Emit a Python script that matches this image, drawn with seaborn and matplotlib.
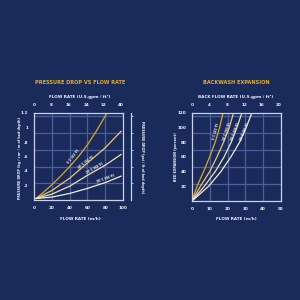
import numpy as np
import pandas as pd
import matplotlib
matplotlib.use("Agg")
import matplotlib.pyplot as plt
import seaborn as sns

# ---------------- data ----------------
# Pressure drop vs flow rate (x: m/h, y: kg/cm2/m of bed depth)
pd_labels = ["5°C (41°F)", "10°C (50°F)", "20°C (68°F)", "30°C (86°F)"]
pd_x1 = [2, 10, 20, 30, 40, 50, 60, 70, 82]
pd_y1 = [0.02, 0.10, 0.21, 0.33, 0.46, 0.60, 0.76, 0.95, 1.2]
pd_x = [2, 20, 40, 60, 80, 98]
pd_y2 = [0.02, 0.13, 0.30, 0.51, 0.72, 0.95]
pd_y3 = [0.02, 0.08, 0.19, 0.34, 0.48, 0.63]
pd_y4 = [0.02, 0.04, 0.09, 0.16, 0.24, 0.33]

# Backwash expansion (x: m/h, y: % bed expansion)
bw_labels = ["5°C (41°F)", "10°C (50°F)", "20°C (68°F)", "30°C (86°F)"]
bw_y = [0, 20, 40, 60, 80, 100, 120]
bw_x1 = [0, 2.8, 6.5, 9.9, 13.0, 15.5, 17.4]
bw_x2 = [0, 4.7, 9.9, 14.0, 17.7, 20.9, 23.3]
bw_x3 = [0, 6.9, 13.0, 18.0, 22.0, 25.2, 28.0]
bw_x4 = [0, 9.3, 16.2, 21.8, 26.7, 30.4, 33.6]

pd_xticks = [0, 20, 40, 60, 80, 100]
pd_yticks = [0.2, 0.4, 0.6, 0.8, 1.0, 1.2]
pd_ytick_labels = [".2", ".4", ".6", ".8", "1", "1.2"]
pd_top_ticks = [0, 8, 16, 24, 32, 40]
bw_xticks = [0, 10, 20, 30, 40, 50]
bw_yticks = [20, 40, 60, 80, 100, 120]
bw_top_ticks = [0, 4, 8, 12, 16, 20]

# ---------------- style ----------------
BG = "#1a2a5a"
GRID = "#4a5f9c"
FRAME = "#c9d2ea"
GOLD = "#e3ad2c"
curve_colors = ["#d9a62e", "#e8c878", "#efe0b4", "#f2ecd8"]
WHITE = "#eef1f8"

sns.set_theme(style="dark")
plt.rcParams["font.family"] = ["DejaVu Sans"]
plt.rcParams["axes.facecolor"] = BG
plt.rcParams["figure.facecolor"] = BG

fig = plt.figure(figsize=(3, 3), dpi=100)
fig.patch.set_facecolor(BG)

GPM = 2.445  # m/h per US gpm/ft2
KG2PSI = 4.335

def style_axes(ax):
    ax.set_facecolor(BG)
    for s in ax.spines.values():
        s.set_color(FRAME)
        s.set_linewidth(0.9)
    ax.tick_params(axis="both", length=0, pad=4, labelsize=3, labelcolor=WHITE)
    for lab in ax.get_xticklabels() + ax.get_yticklabels():
        lab.set_fontweight("bold")

# ---------------- left panel ----------------
axL = fig.add_axes([34/300, 1-200/300, 89/300, 87/300])
dfs = []
dfs.append(pd.DataFrame({"x": pd_x1, "y": pd_y1, "c": pd_labels[0]}))
for lab, yy in zip(pd_labels[1:], [pd_y2, pd_y3, pd_y4]):
    dfs.append(pd.DataFrame({"x": pd_x, "y": yy, "c": lab}))
dfL = pd.concat(dfs)
sns.lineplot(data=dfL, x="x", y="y", hue="c", palette=curve_colors, ax=axL,
             legend=False, linewidth=0.9, estimator=None)
axL.set_xlim(0, 100)
axL.set_ylim(0, 1.2)
axL.set_xticks(pd_xticks)
axL.set_yticks(pd_yticks)
axL.set_yticklabels(pd_ytick_labels)
axL.set_xlabel("")
axL.set_ylabel("")
for xv in pd_xticks[1:-1]:
    axL.axvline(xv, color=GRID, lw=0.9, zorder=0)
for pv in [1, 2, 3, 4, 5]:
    axL.axhline(pv / KG2PSI, color=GRID, lw=0.9, zorder=0)
style_axes(axL)
topL = axL.secondary_xaxis("top", functions=(lambda v: v / GPM, lambda v: v * GPM))
topL.set_xticks(pd_top_ticks)
topL.tick_params(length=0, pad=4, labelsize=3, labelcolor=WHITE)
topL.spines["top"].set_visible(False)
for lab in topL.get_xticklabels():
    lab.set_fontweight("bold")
rightL = axL.secondary_yaxis(1.09, functions=(lambda v: v * KG2PSI, lambda v: v / KG2PSI))
rightL.set_yticks([1, 2, 3, 4, 5])
rightL.set_yticklabels([])
rightL.tick_params(length=1.5, color=FRAME, width=0.6)
rightL.spines["right"].set_color(FRAME)
rightL.spines["right"].set_linewidth(0.9)

lab_pos = [(44, 0.60, 52), (58, 0.52, 38), (68, 0.44, 30), (80, 0.30, 20)]
for (xx, yy, rot), lab in zip(lab_pos, pd_labels):
    axL.text(xx, yy, lab, fontsize=2.2, color=WHITE, rotation=rot,
             ha="center", va="center", fontweight="bold")

# ---------------- right panel ----------------
axR = fig.add_axes([192/300, 1-201/300, 89/300, 88/300])
dfs = []
for lab, xx in zip(bw_labels, [bw_x1, bw_x2, bw_x3, bw_x4]):
    dfs.append(pd.DataFrame({"x": xx, "y": bw_y, "c": lab}))
dfR = pd.concat(dfs)
sns.lineplot(data=dfR, x="x", y="y", hue="c", palette=curve_colors, ax=axR,
             legend=False, linewidth=0.9, estimator=None, sort=False)
axR.set_xlim(0, 50)
axR.set_ylim(0, 120)
axR.set_xticks(bw_xticks)
axR.set_yticks(bw_yticks)
axR.set_xlabel("")
axR.set_ylabel("")
for xv in bw_xticks[1:-1]:
    axR.axvline(xv, color=GRID, lw=0.9, zorder=0)
for pv in [1, 2, 3, 4, 5]:
    axR.axhline(pv / KG2PSI * 100, color=GRID, lw=0.9, zorder=0)
style_axes(axR)
topR = axR.secondary_xaxis("top", functions=(lambda v: v / GPM, lambda v: v * GPM))
topR.set_xticks(bw_top_ticks)
topR.tick_params(length=0, pad=4, labelsize=3, labelcolor=WHITE)
topR.spines["top"].set_visible(False)
for lab in topR.get_xticklabels():
    lab.set_fontweight("bold")

lab_posR = [(13.5, 95, 76), (19.5, 95, 72), (24.5, 95, 70), (29.5, 95, 68)]
for (xx, yy, rot), lab in zip(lab_posR, bw_labels):
    axR.text(xx, yy, lab, fontsize=2.2, color=WHITE, rotation=rot,
             ha="center", va="center", fontweight="bold")

# ---------------- texts ----------------
fs_t = 3.6
fs_l = 3.0
fig.text(80/300, 1-83/300, "PRESSURE DROP VS FLOW RATE", color=GOLD, fontsize=fs_t,
         fontweight="bold", ha="center", va="center")
fig.text(80/300, 1-97/300, "FLOW RATE (U.S.gpm / ft²)", color=WHITE, fontsize=fs_l,
         fontweight="bold", ha="center", va="center")
fig.text(80/300, 1-219/300, "FLOW RATE (m/h)", color=WHITE, fontsize=fs_l,
         fontweight="bold", ha="center", va="center")
fig.text(20/300, 1-158/300, "PRESSURE DROP (kg / cm² / m of bed depth)", color=WHITE,
         fontsize=2.4, fontweight="bold", ha="center", va="center", rotation=90)
fig.text(142/300, 1-157/300, "PRESSURE DROP (psi / ft of bed depth)", color=WHITE,
         fontsize=2.4, fontweight="bold", ha="center", va="center", rotation=-90)

fig.text(236/300, 1-83/300, "BACKWASH EXPANSION", color=GOLD, fontsize=fs_t,
         fontweight="bold", ha="center", va="center")
fig.text(236/300, 1-97/300, "BACK FLOW RATE (U.S.gpm / ft²)", color=WHITE, fontsize=fs_l,
         fontweight="bold", ha="center", va="center")
fig.text(236/300, 1-219/300, "FLOW RATE (m/h)", color=WHITE, fontsize=fs_l,
         fontweight="bold", ha="center", va="center")
fig.text(176/300, 1-157/300, "BED EXPANSION (percent)", color=WHITE,
         fontsize=2.4, fontweight="bold", ha="center", va="center", rotation=90)

fig.savefig("out.png", dpi=100, facecolor=BG)
